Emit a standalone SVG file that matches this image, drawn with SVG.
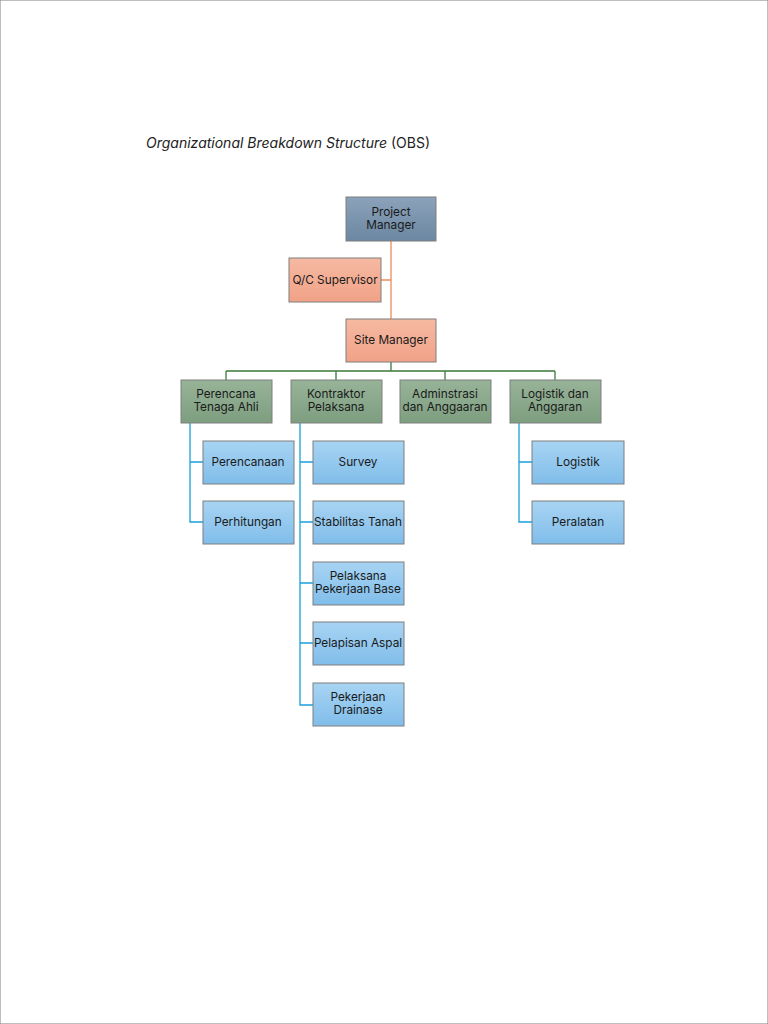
<svg xmlns="http://www.w3.org/2000/svg" width="768" height="1024" viewBox="0 0 768 1024">
<defs>
<linearGradient id="gPM" x1="0" y1="0" x2="0" y2="1"><stop offset="0" stop-color="#8ba2b9"/><stop offset="1" stop-color="#6c87a2"/></linearGradient>
<linearGradient id="gOr" x1="0" y1="0" x2="0" y2="1"><stop offset="0" stop-color="#f6b9a2"/><stop offset="1" stop-color="#f1a287"/></linearGradient>
<linearGradient id="gGr" x1="0" y1="0" x2="0" y2="1"><stop offset="0" stop-color="#97b398"/><stop offset="1" stop-color="#7e9e80"/></linearGradient>
<linearGradient id="gBl" x1="0" y1="0" x2="0" y2="1"><stop offset="0" stop-color="#a8d4f3"/><stop offset="1" stop-color="#80bdea"/></linearGradient>
<style>
rect{stroke:#7f7f7f;stroke-width:1}
.pm{fill:url(#gPM)}.or{fill:url(#gOr)}.gr{fill:url(#gGr)}.bl{fill:url(#gBl)}
text{font-family:Inter,"Open Sans","Liberation Sans",sans-serif;font-size:11.8px;fill:#1a1a1a;text-anchor:middle}
.title{font-size:14px;text-anchor:start;fill:#222}
.c{fill:none;stroke-width:1.3}
.co{stroke:#ef8a5c}.cg{stroke:#3a7a3a}.cb{stroke:#1aa0dc}
</style>
</defs>
<rect width="768" height="1024" fill="#fff" stroke="none"/>
<text class="title" x="146" y="148"><tspan font-style="italic">Organizational Breakdown Structure</tspan> (OBS)</text>
<g id="connectors">
<path class="c co" d="M391 241V319M381 280H391"/>
<path class="c cg" d="M391 362V371M226 371H555M226 371V380M336 371V380M445 371V380M555 371V380"/>
<path class="c cb" d="M190 423V522H203M190 462H203"/>
<path class="c cb" d="M300 423V705H313M300 462H313M300 522H313M300 583H313M300 643H313"/>
<path class="c cb" d="M519 423V522H532M519 462H532"/>
</g>
<g id="pm"><rect class="pm" x="346" y="197" width="90" height="44"/><text x="391" y="216">Project</text><text x="391" y="229">Manager</text></g>
<g id="qc"><rect class="or" x="289" y="258" width="92" height="44"/><text x="335" y="284">Q/C Supervisor</text></g>
<g id="sm"><rect class="or" x="346" y="319" width="90" height="43"/><text x="391" y="344">Site Manager</text></g>
<g id="perencana"><rect class="gr" x="181" y="380" width="91" height="43"/><text x="226" y="398">Perencana</text><text x="226" y="411">Tenaga Ahli</text></g>
<g id="kontraktor"><rect class="gr" x="291" y="380" width="91" height="43"/><text x="336" y="398">Kontraktor</text><text x="336" y="411">Pelaksana</text></g>
<g id="adminstrasi"><rect class="gr" x="400" y="380" width="91" height="43"/><text x="445" y="398">Adminstrasi</text><text x="445" y="411">dan Anggaaran</text></g>
<g id="logistikdan"><rect class="gr" x="510" y="380" width="91" height="43"/><text x="555" y="398">Logistik dan</text><text x="555" y="411">Anggaran</text></g>
<g id="perencanaan"><rect class="bl" x="203" y="441" width="91" height="43"/><text x="248" y="466">Perencanaan</text></g>
<g id="perhitungan"><rect class="bl" x="203" y="501" width="91" height="43"/><text x="248" y="526">Perhitungan</text></g>
<g id="survey"><rect class="bl" x="313" y="441" width="91" height="43"/><text x="358" y="466">Survey</text></g>
<g id="stabilitas"><rect class="bl" x="313" y="501" width="91" height="43"/><text x="358" y="526">Stabilitas Tanah</text></g>
<g id="pelaksana"><rect class="bl" x="313" y="562" width="91" height="43"/><text x="358" y="580">Pelaksana</text><text x="358" y="593">Pekerjaan Base</text></g>
<g id="pelapisan"><rect class="bl" x="313" y="622" width="91" height="43"/><text x="358" y="647">Pelapisan Aspal</text></g>
<g id="drainase"><rect class="bl" x="313" y="683" width="91" height="43"/><text x="358" y="701">Pekerjaan</text><text x="358" y="714">Drainase</text></g>
<g id="logistik"><rect class="bl" x="532" y="441" width="92" height="43"/><text x="578" y="466">Logistik</text></g>
<g id="peralatan"><rect class="bl" x="532" y="501" width="92" height="43"/><text x="578" y="526">Peralatan</text></g>
</svg>
